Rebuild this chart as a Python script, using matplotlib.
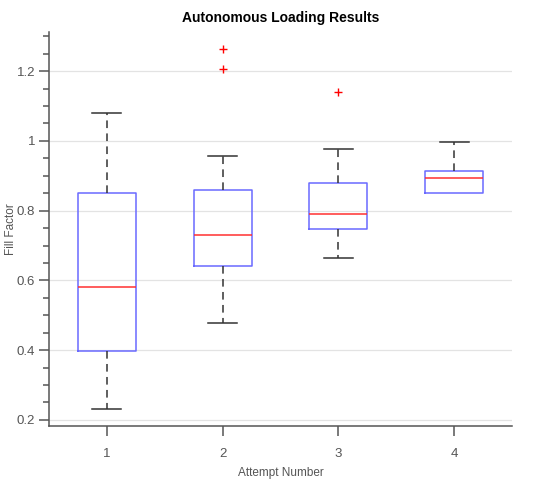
import matplotlib.pyplot as plt
from matplotlib.ticker import MultipleLocator

plt.rcParams['font.family'] = ['Liberation Sans', 'DejaVu Sans']

# box statistics (attempts 1-4)
attempts = [1, 2, 3, 4]
whisker_low = [0.232, 0.479, 0.664, 0.851]
q1 = [0.396, 0.641, 0.748, 0.851]
median = [0.582, 0.730, 0.790, 0.894]
q3 = [0.851, 0.859, 0.880, 0.913]
whisker_high = [1.079, 0.956, 0.977, 0.997]
outliers = [[], [1.205, 1.265], [1.141], []]

stats = []
for i in range(len(attempts)):
    stats.append(dict(whislo=whisker_low[i], q1=q1[i], med=median[i], q3=q3[i],
                      whishi=whisker_high[i], fliers=outliers[i], label=str(attempts[i])))

fig = plt.figure(figsize=(5.5, 4.82), dpi=100)
ax = fig.add_axes([0.089, 0.116, 0.842, 0.818])

parts = ax.bxp(stats, positions=attempts, widths=0.5, showfliers=True,
               boxprops=dict(color='#6a6aff', linewidth=1.1),
               medianprops=dict(color='#ff3030', linewidth=1.1),
               whiskerprops=dict(color='#333333', linewidth=1.1, linestyle=(0, (5, 3.5))),
               capprops=dict(color='#333333', linewidth=1.1),
               capwidths=0.25,
               flierprops=dict(marker='+', markeredgecolor='red', markersize=5.5,
                               markeredgewidth=1.0, linestyle='none'))

# no lower whisker/cap when it coincides with the box edge
for i in range(len(attempts)):
    if whisker_low[i] == q1[i]:
        parts['caps'][2 * i].set_visible(False)
        parts['whiskers'][2 * i].set_visible(False)

ax.set_xlim(0.5, 4.5)
ax.set_ylim(0.182, 1.313)
ax.yaxis.set_minor_locator(MultipleLocator(0.05))
ax.set_yticks([0.2, 0.4, 0.6, 0.8, 1.0, 1.2])
ax.set_yticklabels(['0.2', '0.4', '0.6', '0.8', '1', '1.2'])
ax.yaxis.grid(True, color='#e3e3e3', linewidth=0.9)
ax.set_axisbelow(True)

for side in ['top', 'right']:
    ax.spines[side].set_visible(False)
for side in ['left', 'bottom']:
    ax.spines[side].set_color('#555555')
    ax.spines[side].set_linewidth(1.1)

ax.tick_params(axis='both', which='major', length=7.5, width=1.1, color='#555555',
               labelcolor='#555555', labelsize=9.5)
ax.tick_params(axis='x', which='major', pad=8)
ax.tick_params(axis='y', which='major', pad=2.5)
ax.tick_params(axis='y', which='minor', length=4, width=1.1, color='#555555')

ax.set_title('Autonomous Loading Results', fontsize=10, fontweight='bold', pad=7)
ax.set_xlabel('Attempt Number', fontsize=8.5, color='#555555')
ax.set_ylabel('Fill Factor', fontsize=8.5, color='#555555')
ax.xaxis.set_label_coords(0.5, -0.105)
ax.yaxis.set_label_coords(-0.068, 0.5)

fig.savefig('out.png', dpi=100)
